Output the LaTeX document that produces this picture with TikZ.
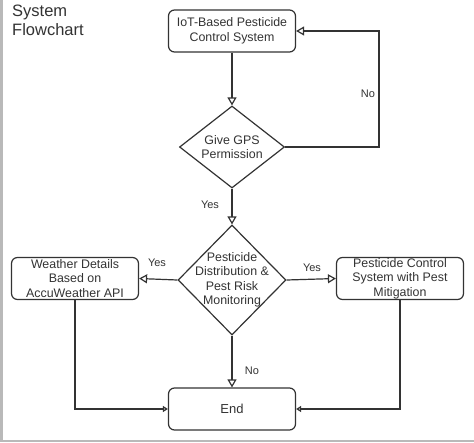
\documentclass[tikz,border=0pt]{standalone}
\usepackage{fontspec}
\setmainfont{Liberation Sans}
\usetikzlibrary{arrows.meta,shapes.geometric}
\definecolor{ink}{HTML}{333333}
\begin{document}
\begin{tikzpicture}[x=1pt,y=-1pt,
  every node/.style={text=ink},
  procbox/.style={draw=ink,line width=1.2pt,rounded corners=6pt,minimum width=127pt,minimum height=42pt,align=center,inner sep=0pt,font=\fontsize{12.4}{14.5}\selectfont},
  decbox/.style={draw=ink,line width=1.2pt,shape=diamond,inner sep=0pt},
  dectext/.style={align=center,font=\fontsize{12.4}{14.5}\selectfont,inner sep=0pt},
  lbl/.style={font=\fontsize{11}{13}\selectfont,inner sep=0pt},
  conn/.style={draw=ink,line width=1.2pt,-{Triangle[open,length=8pt,width=9pt]}},
  connsm/.style={draw=ink,line width=1.2pt,-{Triangle[open,length=5pt,width=6pt]}}
]
\useasboundingbox (0,0) rectangle (474,442);
\fill[white] (0,0) rectangle (474,442);
\draw[gray!55,line width=2.5pt] (1.25,0) -- (1.25,440.75) -- (474,440.75);
\node[anchor=north west,align=left,inner sep=0pt,font=\fontsize{16.5}{19}\selectfont] (title) at (12,5) {System\\Flowchart};

\node[procbox] (start) at (232,31) {IoT-Based Pesticide\\Control System};
\node[decbox,minimum width=105pt,minimum height=82pt] (d1) at (232,147) {};
\node[dectext] (d1t) at (d1.center) {Give GPS\\Permission};
\node[decbox,minimum width=108pt,minimum height=110pt] (d2) at (232,280) {};
\node[dectext] (d2t) at (d2.center) {Pesticide\\Distribution \&\\Pest Risk\\Monitoring};
\node[procbox] (weather) at (75,278.5) {Weather Details\\Based on\\AccuWeather API};
\node[procbox] (mitig) at (400,278.5) {Pesticide Control\\System with Pest\\Mitigation};
\node[procbox,font=\fontsize{13}{15}\selectfont] (end) at (232,409) {End};

\coordinate (fbr) at (379,147);
\coordinate (fbt) at (379,31);
\coordinate (wb) at (75,409);
\coordinate (mb) at (400,409);

\draw[conn] (start) -- (d1);
\draw[conn] (d1.east) -- (fbr) -- (fbt) -- (start.east);
\draw[conn] (d1) -- (d2);
\draw[conn] (d2.west) -- (weather.east);
\draw[conn] (d2.east) -- (mitig.west);
\draw[conn] (d2) -- (end);
\draw[connsm] (weather.south) -- (wb) -- (end.west);
\draw[connsm] (mitig.south) -- (mb) -- (end.east);

\node[lbl] (no1) at (368,94) {No};
\node[lbl] (yes1) at (210,205) {Yes};
\node[lbl] (yes2) at (157,263) {Yes};
\node[lbl] (yes3) at (312,268) {Yes};
\node[lbl] (no2) at (252,371) {No};
\end{tikzpicture}
\end{document}
